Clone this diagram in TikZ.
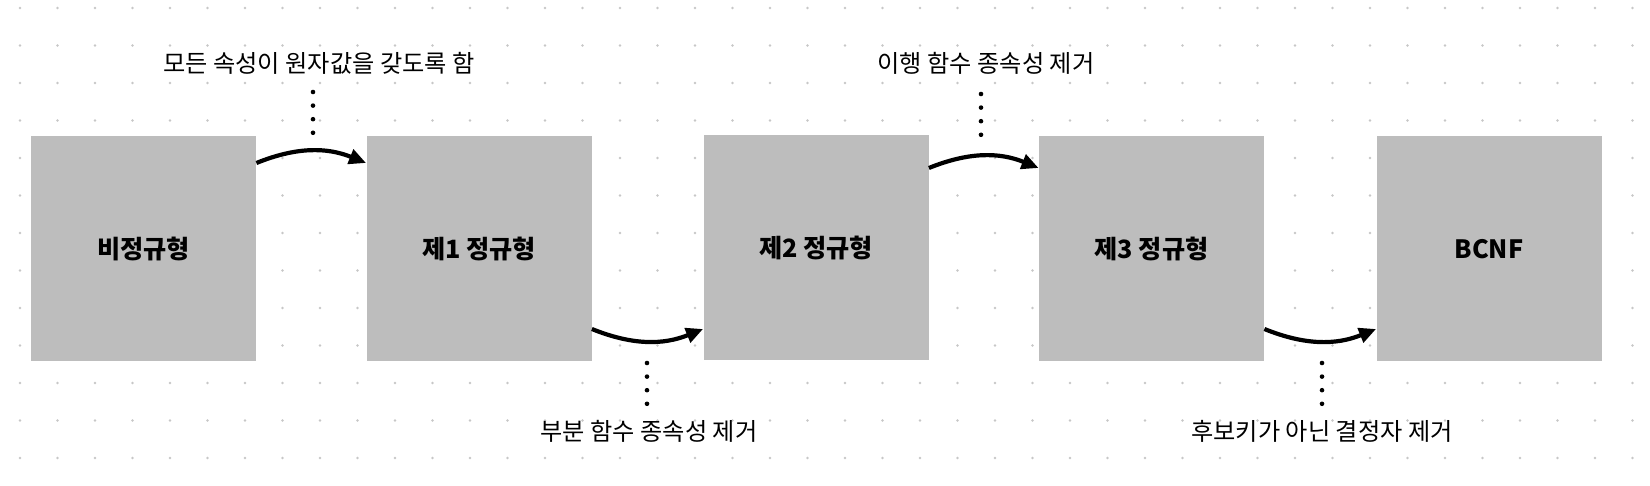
\documentclass[tikz,border=0pt]{standalone}
\usepackage{fontspec}
\newfontfamily\kr{Noto Sans CJK KR}
\usetikzlibrary{arrows.meta}
\begin{document}
\begin{tikzpicture}[x=0.5pt,y=-0.5pt,
  box/.style={fill=black!26,minimum width=112.5pt,minimum height=112.5pt,inner sep=0,font=\kr\bfseries\fontsize{12.6}{15}\selectfont},
  lab/.style={font=\kr\fontsize{12.1}{15}\selectfont},
  arr/.style={line width=2.1pt,-{Triangle[length=8.5pt,width=7.5pt]}},
  dots/.style={line width=2.3pt,line cap=round,dash pattern=on 0pt off 6.8pt}]
\useasboundingbox (0,0) rectangle (1650,486);
\foreach \i in {0,...,43}{\foreach \j in {0,...,12}{
  \fill[black!22] (20+37.5*\i,8+37.5*\j) circle (1.4);}}
\node[box] (a) at (143.5,249) {비정규형};
\node[box] (b) at (479,249) {제1 정규형};
\node[box] (c) at (816,248) {제2 정규형};
\node[box] (d) at (1151.5,249) {제3 정규형};
\node[box] (e) at (1489,249) {BCNF};
\draw[arr] (a.east|-0,163) to[bend left=22] (b.west|-0,163);
\draw[arr] (b.east|-0,329) to[bend right=22] (c.west|-0,329);
\draw[arr] (c.east|-0,168) to[bend left=22] (d.west|-0,168);
\draw[arr] (d.east|-0,329) to[bend right=22] (e.west|-0,329);
\node[lab] (l1) at (319,63) {모든 속성이 원자값을 갖도록 함};
\node[lab] (l2) at (649,431) {부분 함수 종속성 제거};
\node[lab] (l3) at (986,63) {이행 함수 종속성 제거};
\node[lab] (l4) at (1322,431) {후보키가 아닌 결정자 제거};
\coordinate (p1) at (313,133); \draw[dots] (313,92) -- (p1);
\coordinate (p2) at (647,404); \draw[dots] (647,363) -- (p2);
\coordinate (p3) at (981,135); \draw[dots] (981,94) -- (p3);
\coordinate (p4) at (1322,404); \draw[dots] (1322,363) -- (p4);
\end{tikzpicture}
\end{document}
